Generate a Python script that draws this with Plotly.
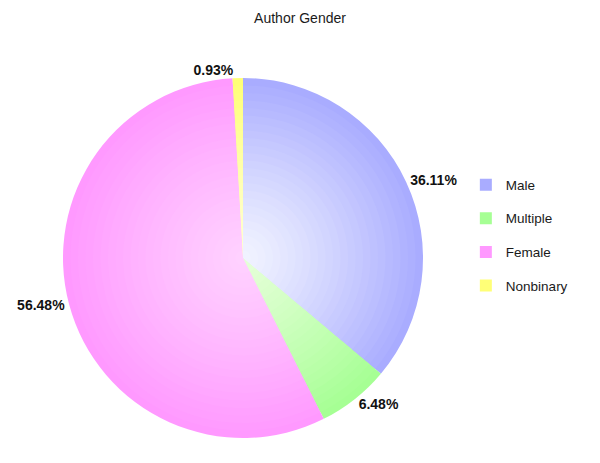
import numpy as np
import plotly.graph_objects as go

# slices in drawing order, clockwise from 12 o'clock
labels = ["Male", "Multiple", "Female", "Nonbinary"]
counts = [39, 7, 61, 1]

edge_colors = ["#a9acff", "#a6ff94", "#ff99ff", "#ffff77"]
center_colors = ["#f2f4ff", "#e6ffd9", "#ffd2ff", "#ffffd6"]

N_LAYERS = 24
W, H = 600, 463
PAGE_PAD = 8  # the page body adds 8px around the plot div


def hex_rgb(h):
    h = h.lstrip("#")
    return np.array([int(h[i:i+2], 16) for i in (0, 2, 4)], dtype=float)


def blend(c_out, c_in, t):
    # t = 1 at the rim, 0 at the centre
    rgb = hex_rgb(c_in) + (hex_rgb(c_out) - hex_rgb(c_in)) * t
    return "rgb({},{},{})".format(*[int(round(v)) for v in rgb])


legend_labels = [
    f'<span style="font-size:13.5px;baseline-shift:4.5px">{l}</span>' for l in labels
]

fig = go.Figure()

# radial gradient faked with stacked concentric pies, outer one carries text + legend
for i in range(N_LAYERS):
    frac = 1 - i / N_LAYERS
    t = frac ** 1.2
    colors = [blend(o, c, t) for o, c in zip(edge_colors, center_colors)]
    outer = i == 0
    fig.add_trace(go.Pie(
        labels=legend_labels,
        values=counts,
        sort=False,
        direction="clockwise",
        rotation=0,
        marker=dict(colors=colors, line=dict(width=0)),
        domain=dict(x=[0.5 - frac / 2, 0.5 + frac / 2], y=[0.5 - frac / 2, 0.5 + frac / 2]),
        textinfo="percent" if outer else "none",
        texttemplate="<b>%{percent:.2%}</b>" if outer else None,
        textposition="outside" if outer else "none",
        outsidetextfont=dict(family="Liberation Sans, Arial", size=14, color="#111111"),
        showlegend=outer,
        hoverinfo="skip" if not outer else "label+percent",
        automargin=False,
    ))

fig.update_layout(
    width=W, height=H,
    title=dict(text="Author Gender", x=(300 - PAGE_PAD) / W, xref="container",
               y=1 - (18 - PAGE_PAD) / H, yref="container", yanchor="middle",
               font=dict(family="Liberation Sans, Arial", size=14, color="#1a1a1a")),
    margin=dict(l=63 - PAGE_PAD, r=W - 423 + PAGE_PAD, t=78 - PAGE_PAD, b=H - 438 + PAGE_PAD,
                autoexpand=False),
    font=dict(family="Liberation Sans, Arial"),
    legend=dict(x=1.119, xanchor="left", y=0.5625, yanchor="middle",
                font=dict(size=23.5, color="#1a1a1a"), traceorder="normal"),
    paper_bgcolor="white",
    plot_bgcolor="white",
)

fig.write_html("out.html")
